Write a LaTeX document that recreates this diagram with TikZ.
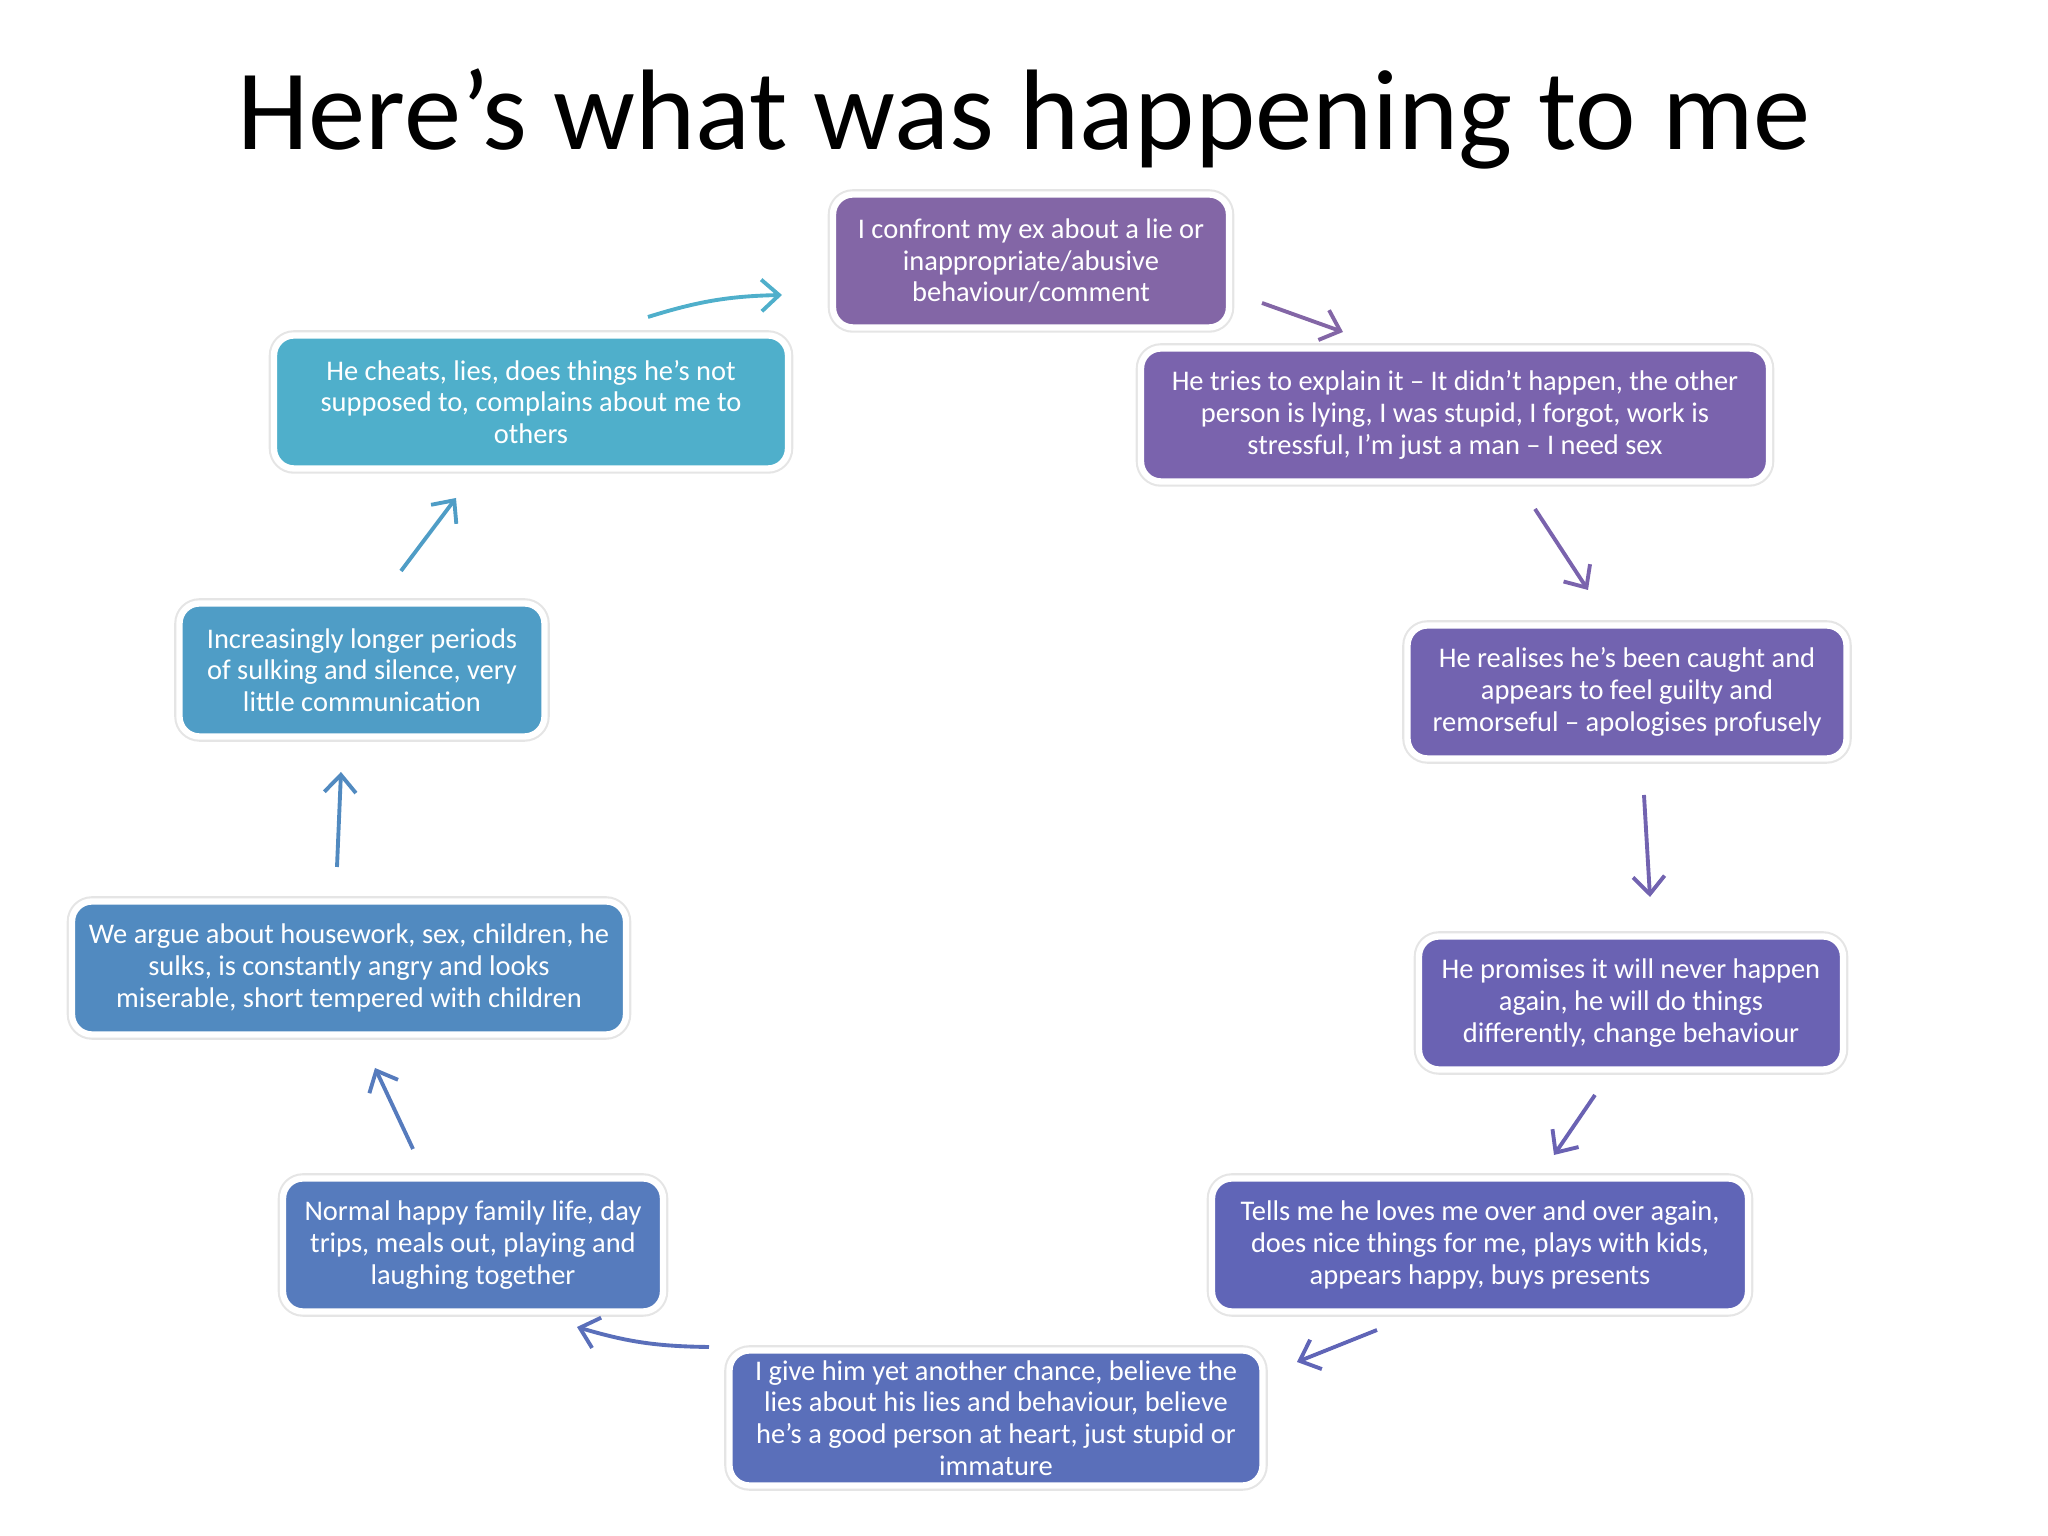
\documentclass[tikz,border=0pt]{standalone}
\usepackage{fontspec}
\setmainfont{Carlito}
\usepackage{tikz}
\usetikzlibrary{arrows.meta}

\definecolor{cA}{HTML}{8366A6}
\definecolor{cB}{HTML}{7A63AD}
\definecolor{cC}{HTML}{7263B0}
\definecolor{cD}{HTML}{6A62B3}
\definecolor{cE}{HTML}{6065B7}
\definecolor{cF}{HTML}{5A6FBA}
\definecolor{cG}{HTML}{567BBD}
\definecolor{cH}{HTML}{518AC0}
\definecolor{cI}{HTML}{4F9DC6}
\definecolor{cJ}{HTML}{4FAFCB}

\tikzset{
  stage/.style={rounded corners=0.2cm, fill=#1, draw=white, line width=1.8pt,
    preaction={draw=black!10, line width=3pt},
    text=white, align=center, minimum height=1.33cm, inner sep=2pt,
    font=\fontsize{8.1}{9}\selectfont},
  cyc/.style={draw=#1, line width=1.1pt, -{Straight Barb[length=5pt,width=9pt,line width=1.1pt]}}
}

\begin{document}
\begin{tikzpicture}
        \useasboundingbox (0,0) rectangle (20.48,15.36);
        \node[anchor=base, font=\fontsize{32.6}{38}\selectfont] (title) at (10.24,13.86) {Here’s what was happening to me};

        \node[stage=cA, minimum width=3.96cm] (confront) at (10.31,12.75) {I confront my ex about a lie or\\inappropriate/abusive\\behaviour/comment};
        \node[stage=cB, minimum width=6.28cm] (explain) at (14.55,11.21) {He tries to explain it -- It didn’t happen, the other\\person is lying, I was stupid, I forgot, work is\\stressful, I’m just a man -- I need sex};
        \node[stage=cC, minimum width=4.39cm] (realise) at (16.27,8.44) {He realises he’s been caught and\\appears to feel guilty and\\remorseful -- apologises profusely};
        \node[stage=cD, minimum width=4.24cm] (promise) at (16.31,5.33) {He promises it will never happen\\again, he will do things\\differently, change behaviour};
        \node[stage=cE, minimum width=5.36cm] (loves) at (14.80,2.91) {Tells me he loves me over and over again,\\does nice things for me, plays with kids,\\appears happy, buys presents};
        \node[stage=cF, minimum width=5.33cm, minimum height=1.35cm] (chance) at (9.96,1.18) {I give him yet another chance, believe the\\lies about his lies and behaviour, believe\\he’s a good person at heart, just stupid or\\immature};
        \node[stage=cG, minimum width=3.80cm] (normal) at (4.73,2.91) {Normal happy family life, day\\trips, meals out, playing and\\laughing together};
        \node[stage=cH, minimum width=5.54cm] (argue) at (3.49,5.68) {We argue about housework, sex, children, he\\sulks, is constantly angry and looks\\miserable, short tempered with children};
        \node[stage=cI, minimum width=3.65cm] (sulk) at (3.62,8.66) {Increasingly longer periods\\of sulking and silence, very\\little communication};
        \node[stage=cJ, minimum width=5.14cm] (cheat) at (5.31,11.34) {He cheats, lies, does things he’s not\\supposed to, complains about me to\\others};

        % free-standing arrows between the stages
        \foreach \n/\sx/\sy/\ex/\ey in {1/12.62/12.33/13.43/12.04, 2/15.35/10.27/15.88/9.46,
            3/16.44/7.41/16.50/6.39, 4/15.95/4.41/15.54/3.81, 5/13.77/2.06/12.97/1.74,
            6/7.09/1.89/5.77/2.09, 7/4.13/3.87/3.75/4.68, 8/3.37/6.69/3.41/7.64,
            9/4.01/9.65/4.56/10.38, 10/6.48/12.19/7.82/12.41} {
            \coordinate (s\n) at (\sx,\sy);
            \coordinate (e\n) at (\ex,\ey);
        }
        \draw[cyc=cA] (s1) -- (e1);
        \draw[cyc=cB] (s2) -- (e2);
        \draw[cyc=cC] (s3) -- (e3);
        \draw[cyc=cD] (s4) -- (e4);
        \draw[cyc=cE] (s5) -- (e5);
        \draw[cyc=cF] (s6) to[bend left=8] (e6);
        \draw[cyc=cG] (s7) -- (e7);
        \draw[cyc=cH] (s8) -- (e8);
        \draw[cyc=cI] (s9) -- (e9);
        \draw[cyc=cJ] (s10) to[bend left=8] (e10);
    \end{tikzpicture}
\end{document}
